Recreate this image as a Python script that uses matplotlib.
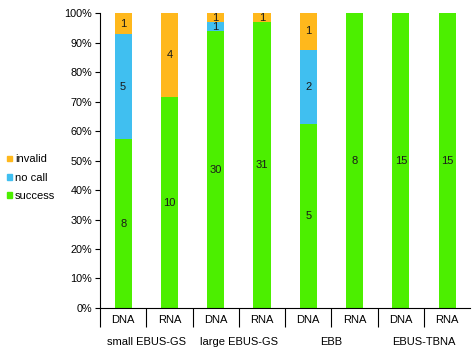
import matplotlib.pyplot as plt
from matplotlib.patches import Patch
from matplotlib.ticker import FuncFormatter, FixedLocator
import numpy as np

plt.rcParams['font.family'] = ['Liberation Sans', 'DejaVu Sans']

# counts per bar
groups = ["small EBUS-GS", "large EBUS-GS", "EBB", "EBUS-TBNA"]
samples = ["DNA", "RNA"] * 4
success = [8, 10, 30, 31, 5, 8, 15, 15]
no_call = [5, 0, 1, 0, 2, 0, 0, 0]
invalid = [1, 4, 1, 1, 1, 0, 0, 0]

col_success = "#4cef00"
col_nocall = "#40bff0"
col_invalid = "#ffb81c"

fig = plt.figure(figsize=(4.74, 3.53), dpi=100)
ax = fig.add_axes([0.211, 0.1275, 0.781, 0.8355])

x = np.arange(len(samples))
tot = np.array(success) + np.array(no_call) + np.array(invalid)
p_s = np.array(success) / tot
p_n = np.array(no_call) / tot
p_i = np.array(invalid) / tot

w = 0.37
b1 = ax.bar(x, p_s, w, color=col_success)
b2 = ax.bar(x, p_n, w, bottom=p_s, color=col_nocall)
b3 = ax.bar(x, p_i, w, bottom=p_s + p_n, color=col_invalid)

def lab(vals):
    return [str(v) if v else "" for v in vals]

for cont, vals in [(b1, success), (b2, no_call), (b3, invalid)]:
    ax.bar_label(cont, labels=lab(vals), label_type='center', fontsize=8, color="#1a1a1a")

ax.set_xlim(-0.5, 7.5)
ax.set_ylim(0, 1)
ax.yaxis.set_major_locator(FixedLocator(np.arange(0, 1.01, 0.1)))
ax.yaxis.set_major_formatter(FuncFormatter(lambda v, p: f"{v*100:.0f}%"))
ax.tick_params(axis='y', length=3.5, width=0.8, labelsize=7.8, pad=2)

ax.set_xticks(x)
ax.set_xticklabels(samples)
ax.tick_params(axis='x', which='major', length=0, labelsize=8, pad=5)
ax.set_xticks(np.arange(-0.5, 7.0, 1.0), minor=True)
ax.tick_params(axis='x', which='minor', length=14, width=0.8, direction='out')

for s in ['top', 'right']:
    ax.spines[s].set_visible(False)
for s in ['left', 'bottom']:
    ax.spines[s].set_linewidth(0.8)

for i, g in enumerate(groups):
    ax.text(2 * i + 0.5, -0.116, g, transform=ax.get_xaxis_transform(),
            ha='center', va='center', fontsize=8)

handles = [Patch(color=col_invalid, label="invalid"),
           Patch(color=col_nocall, label="no call"),
           Patch(color=col_success, label="success")]
fig.legend(handles=handles, loc='upper left', bbox_to_anchor=(0.005, 0.575),
           frameon=False, fontsize=8, handlelength=0.45, handleheight=0.45,
           handletextpad=0.3, labelspacing=0.75, borderaxespad=0)

fig.savefig("out.png", dpi=100)
